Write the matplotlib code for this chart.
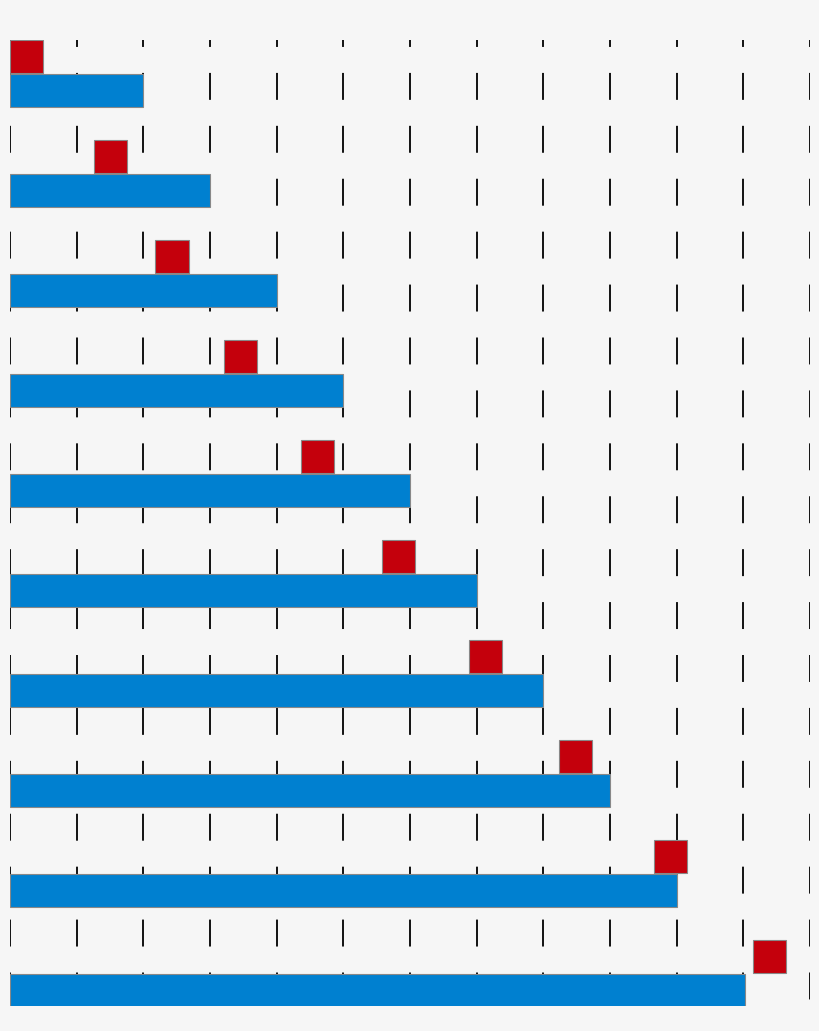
import matplotlib
matplotlib.use('Agg')
import matplotlib.pyplot as plt

plt.rcParams['lines.scale_dashes'] = False

# data
bar_values = [2, 3, 4, 5, 6, 7, 8, 9, 10, 11.03]
marker_values = [0, 1.26, 2.18, 3.21, 4.36, 5.58, 6.88, 8.23, 9.66, 11.14]
grid_ticks = list(range(0, 13))

fig = plt.figure(figsize=(8.2, 10.31), dpi=100, facecolor='#f6f6f6')
ax = fig.add_axes([10 / 820, 1 - 1006 / 1031, 800 / 820, 966 / 1031])
ax.set_facecolor('#f6f6f6')
ax.set_xlim(0, 12)
ax.set_ylim(9.66, 0)

# dashed vertical grid, drawn from above the top so the first dash is clipped
for t in grid_ticks:
    ax.plot([t, t], [-0.2, 10], color='black', lw=1.3,
            dashes=(19.4, 18.7), zorder=1, clip_on=True)

n = len(bar_values)
rows = range(n)
ax.barh([i + 0.5 for i in rows], bar_values, height=0.33, left=0,
        color='#0080d0', edgecolor='#888888', linewidth=0.8, zorder=2)
ax.barh([i + 0.165 for i in rows], [0.5] * n, height=0.33, left=marker_values,
        color='#c4000c', edgecolor='#888888', linewidth=0.8, zorder=3)

for s in ax.spines.values():
    s.set_visible(False)
ax.set_xticks([])
ax.set_yticks([])

fig.savefig('out.png', dpi=100, facecolor=fig.get_facecolor())
